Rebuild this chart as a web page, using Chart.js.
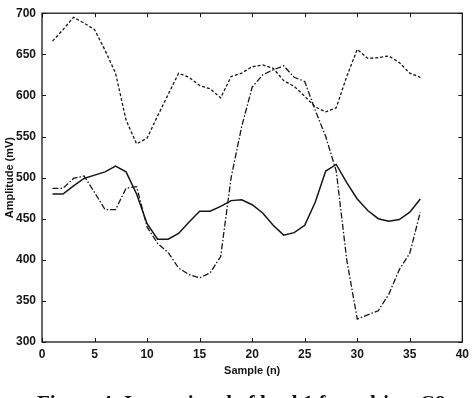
<!DOCTYPE html>
<html>
<head>
<meta charset="utf-8">
<script src="https://cdn.jsdelivr.net/npm/chart.js@4/dist/chart.umd.min.js"></script>
<style>
  html, body { margin: 0; padding: 0; background: #fff; }
  canvas { display: block; }
</style>
</head>
<body>
<canvas id="myChart" width="474" height="398"></canvas>
<script>
'use strict';
// data
let samples = [1, 2, 3, 4, 5, 6, 7, 8, 9, 10, 11, 12, 13, 14, 15, 16, 17, 18,
    19, 20, 21, 22, 23, 24, 25, 26, 27, 28, 29, 30, 31, 32, 33, 34, 35, 36];

// dotted series (top one)
let signalA = [666, 680, 695, 688, 680, 655, 627, 570, 541, 548, 575, 601, 627, 622, 612, 608, 597, 623,
    627, 635, 637, 633, 618, 611, 599, 586, 580, 585, 623, 656, 645, 646, 648, 640, 627, 622];
// solid series
let signalB = [480, 480, 490, 499, 503, 507, 514, 507, 480, 444, 425, 425, 432, 446, 459, 459, 465, 472,
    473, 467, 457, 442, 430, 433, 442, 470, 508, 516, 494, 474, 460, 450, 447, 449, 458, 474];
// dash-dot series
let signalC = [487, 487, 499, 502, 482, 461, 461, 487, 489, 440, 420, 409, 390, 382, 378, 384, 404, 500,
    562, 610, 625, 631, 636, 622, 617, 582, 550, 508, 400, 328, 333, 338, 358, 388, 408, 458];

let xTicks = [0, 5, 10, 15, 20, 25, 30, 35, 40];
let yTicks = [300, 350, 400, 450, 500, 550, 600, 650, 700];

let xTitle = 'Sample (n)';
let yTitle = 'Amplitude (mV)';
let caption = 'Figure 4: Input signal of lead 1 for subject C8';

// turn a series into x/y points
function toPoints(values) {
    let pts = [];
    for (let i = 0; i < samples.length; i++) {
        pts.push({ x: samples[i], y: values[i] });
    }
    return pts;
}

let ink = '#161616';

// frame round the plot, ticks pointing inward on all sides, caption under it
const boxTicks = {
    id: 'boxTicks',
    afterDraw(chart) {
        const ctx = chart.ctx;
        const a = chart.chartArea;
        const x = chart.scales.x;
        const y = chart.scales.y;
        ctx.save();
        ctx.strokeStyle = ink;
        ctx.lineWidth = 1.3;
        ctx.strokeRect(a.left, a.top, a.right - a.left, a.bottom - a.top);
        ctx.lineWidth = 1;
        let len = 4;
        xTicks.forEach(function (v) {
            let px = Math.round(x.getPixelForValue(v)) + 0.5;
            ctx.beginPath();
            ctx.moveTo(px, a.bottom); ctx.lineTo(px, a.bottom - len);
            ctx.moveTo(px, a.top); ctx.lineTo(px, a.top + len);
            ctx.stroke();
        });
        yTicks.forEach(function (v) {
            let py = Math.round(y.getPixelForValue(v)) + 0.5;
            ctx.beginPath();
            ctx.moveTo(a.left, py); ctx.lineTo(a.left + len, py);
            ctx.moveTo(a.right, py); ctx.lineTo(a.right - len, py);
            ctx.stroke();
        });
        // caption, cut by the bottom edge like the scan
        ctx.fillStyle = '#111';
        ctx.font = 'bold 21px "Liberation Serif", serif';
        ctx.textBaseline = 'alphabetic';
        ctx.fillText(caption, 37, 410);
        ctx.restore();
    }
};

var ctx = document.getElementById('myChart').getContext('2d');

var myChart = new Chart(ctx, {
    type: 'line',
    data: {
        datasets: [{
            label: 'A',
            data: toPoints(signalA),
            borderColor: ink,
            borderWidth: 1.3,
            borderDash: [3, 2],
            pointRadius: 0,
            tension: 0
        }, {
            label: 'B',
            data: toPoints(signalB),
            borderColor: ink,
            borderWidth: 1.5,
            pointRadius: 0,
            tension: 0
        }, {
            label: 'C',
            data: toPoints(signalC),
            borderColor: ink,
            borderWidth: 1.3,
            borderDash: [6, 2, 1.5, 2],
            pointRadius: 0,
            tension: 0
        }]
    },
    options: {
        responsive: false,
        animation: false,
        devicePixelRatio: 1,
        layout: {
            padding: { top: 8, right: 11, left: 0, bottom: 0 }
        },
        plugins: {
            legend: { display: false },
            tooltip: { enabled: false }
        },
        scales: {
            x: {
                type: 'linear',
                min: 0,
                max: 40,
                afterBuildTicks: function (scale) {
                    scale.ticks = xTicks.map(function (v) { return { value: v }; });
                },
                afterFit: function (scale) { scale.height = 56; },
                ticks: {
                    color: ink,
                    padding: 5,
                    maxRotation: 0,
                    font: { family: '"Liberation Sans", Arial, sans-serif', size: 12, weight: 'bold' }
                },
                grid: { drawOnChartArea: false, drawTicks: false },
                border: { display: false },
                title: {
                    display: true,
                    text: xTitle,
                    color: ink,
                    padding: { top: 0, bottom: 20 },
                    font: { family: '"Liberation Sans", Arial, sans-serif', size: 11, weight: 'bold' }
                }
            },
            y: {
                type: 'linear',
                min: 300,
                max: 700,
                afterBuildTicks: function (scale) {
                    scale.ticks = yTicks.map(function (v) { return { value: v }; });
                },
                afterFit: function (scale) { scale.width = 42; },
                ticks: {
                    color: ink,
                    padding: 6,
                    font: { family: '"Liberation Sans", Arial, sans-serif', size: 12, weight: 'bold' }
                },
                grid: { drawOnChartArea: false, drawTicks: false },
                border: { display: false },
                title: {
                    display: true,
                    text: yTitle,
                    color: ink,
                    padding: { top: 3, bottom: 0 },
                    font: { family: '"Liberation Sans", Arial, sans-serif', size: 11, weight: 'bold' }
                }
            }
        }
    },
    plugins: [boxTicks]
});
</script>
</body>
</html>
